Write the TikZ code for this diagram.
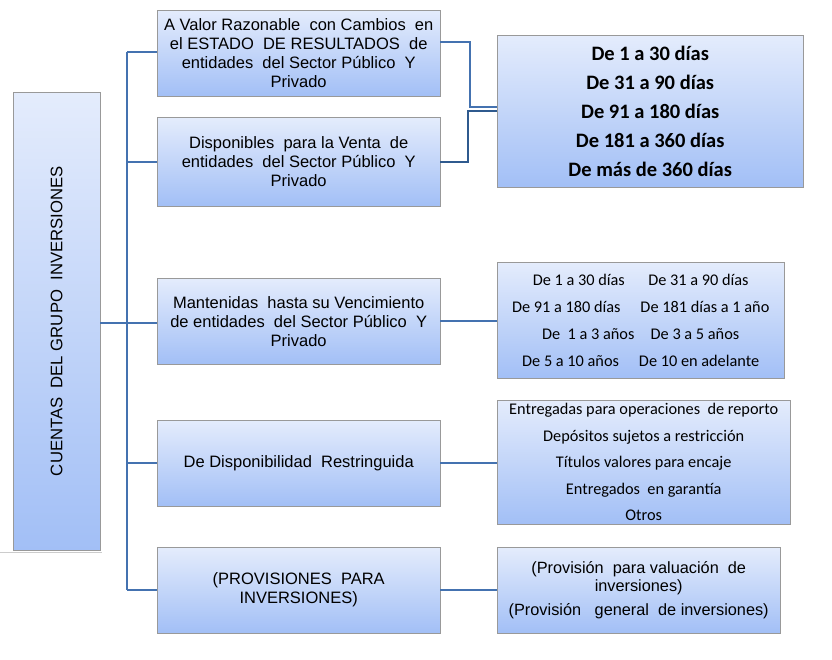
\documentclass[tikz,border=0pt]{standalone}
\usepackage{fontspec}
\setmainfont{Liberation Sans}
\newfontfamily\carlfont{Carlito}
\definecolor{topc}{HTML}{E4ECFC}
\definecolor{botc}{HTML}{A2BFF6}
\definecolor{linec}{HTML}{4472B0}
\definecolor{lined}{HTML}{2F5A8E}
\begin{document}
\begin{tikzpicture}[x=1pt,y=-1pt,
 bx/.style={draw=gray!80,top color=topc,bottom color=botc,inner sep=0pt},
 ln/.style={draw=linec,line width=2.5pt},
 mt/.style={font=\fontsize{16.5}{19}\selectfont,align=center}]
\useasboundingbox (0,0) rectangle (832,659);
\fill[gray!40] (0,552) rectangle (102,552.8);
\node[bx,minimum width=87,minimum height=458,anchor=north west] (L) at (13,92) {};
\node[rotate=90,font=\fontsize{16.7}{18}\selectfont] (Lt) at (L.center) {CUENTAS\ \ DEL GRUPO\ \ INVERSIONES};
\node[bx,minimum width=283,minimum height=86,anchor=north west] (m1) at (157,10) {};
\node[mt] (m1t) at (m1.center) {A Valor Razonable\ \ con Cambios\ \ en\\el ESTADO\ \ DE RESULTADOS\ \ de\\entidades\ \ del Sector Público\ \ Y\\Privado};
\node[bx,minimum width=283,minimum height=89,anchor=north west] (m2) at (157,117) {};
\node[mt] (m2t) at (m2.center) {Disponibles\ \ para la Venta\ \ de\\entidades\ \ del Sector Público\ \ Y\\Privado};
\node[bx,minimum width=283,minimum height=86,anchor=north west] (m3) at (157,278) {};
\node[mt] (m3t) at (m3.center) {Mantenidas\ \ hasta su Vencimiento\\de entidades\ \ del Sector Público\ \ Y\\Privado};
\node[bx,minimum width=283,minimum height=86,anchor=north west] (m4) at (157,420) {};
\node[mt] (m4t) at (m4.center) {De Disponibilidad\ \ Restringuida};
\node[bx,minimum width=283,minimum height=86,anchor=north west] (m5) at (157,547) {};
\node[mt] (m5t) at (m5.center) {(PROVISIONES\ \ PARA\\INVERSIONES)};
\node[bx,minimum width=306,minimum height=152,anchor=north west] (r1) at (497,35) {};
\node[align=center,font=\carlfont\bfseries\fontsize{20.5}{29}\selectfont] (r1t) at (r1.center) {De 1 a 30 días\\De 31 a 90 días\\De 91 a 180 días\\De 181 a 360 días\\De más de 360 días};
\node[bx,minimum width=287,minimum height=116,anchor=north west] (r3) at (497,262) {};
\node[align=center,font=\carlfont\fontsize{16.3}{27}\selectfont] (r3t) at (r3.center) {De 1 a 30 días\quad\ \ De 31 a 90 días\\De 91 a 180 días\quad\ De 181 días a 1 año\\De\ \ 1 a 3 años\quad De 3 a 5 años\\De 5 a 10 años\quad\ De 10 en adelante};
\node[bx,minimum width=293,minimum height=124,anchor=north west] (r4) at (497,400) {};
\node[align=center,font=\carlfont\fontsize{16.3}{26.5}\selectfont] (r4t) at (r4.center) {Entregadas para operaciones\ \ de reporto\\Depósitos sujetos a restricción\\Títulos valores para encaje\\Entregados\ \ en garantía\\Otros};
\node[bx,minimum width=283,minimum height=86,anchor=north west] (r5) at (497,547) {};
\node[align=center,font=\fontsize{16.3}{18}\selectfont] (r5t) at (r5.center) {(Provisión\ \ para valuación\ \ de\\inversiones)\\[6pt](Provisión\ \ \ general\ \ de inversiones)};
\coordinate (s1) at (127,52);
\coordinate (s5) at (127,590);
\draw[ln] (s1) -- (s5);
\draw[ln] (L.east |- 0,323) -- (127,323);
\draw[ln] (127,52) -- (m1.west |- 0,52);
\draw[ln] (127,162) -- (m2.west |- 0,162);
\draw[ln] (127,323) -- (m3.west |- 0,323);
\draw[ln] (127,463) -- (m4.west |- 0,463);
\draw[ln] (127,590) -- (m5.west |- 0,590);
\draw[ln] (m1.east |- 0,42) -- (470,42) -- (470,107) -- (r1.west |- 0,107);
\draw[ln,draw=lined] (m2.east |- 0,162) -- (468,162) -- (468,111) -- (r1.west |- 0,111);
\draw[ln] (m3.east |- 0,321) -- (r3.west |- 0,321);
\draw[ln] (m4.east |- 0,463) -- (r4.west |- 0,463);
\draw[ln] (m5.east |- 0,590) -- (r5.west |- 0,590);
\end{tikzpicture}
\end{document}
